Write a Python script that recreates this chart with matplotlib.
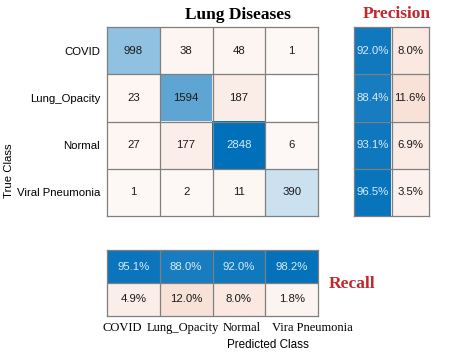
import matplotlib
matplotlib.use('Agg')
import matplotlib.pyplot as plt
import numpy as np

# dados da matriz de confusao
classes = ['COVID', 'Lung_Opacity', 'Normal', 'Viral Pneumonia']
pred_labels = ['COVID', 'Lung_Opacity', 'Normal', 'Vira Pneumonia']
counts = np.array([
    [998, 38, 48, 1],
    [23, 1594, 187, 0],
    [27, 177, 2848, 6],
    [1, 2, 11, 390],
])
precision_ok = [92.0, 88.4, 93.1, 96.5]
precision_err = [8.0, 11.6, 6.9, 3.5]
recall_ok = [95.1, 88.0, 92.0, 98.2]
recall_err = [4.9, 12.0, 8.0, 1.8]

BLUE = np.array([0, 112, 186]) / 255
ORANGE = np.array([217, 83, 25]) / 255
WHITE = np.ones(3)
RED = '#c1272d'


def mix(c, a):
    return WHITE * (1 - a) + c * a


def cor_diag(a):
    return mix(BLUE, a ** 0.8)


def cor_off(a):
    if a <= 0:
        return WHITE
    return mix(ORANGE, 0.04 + a)


def desenha(ax, rgb, textos, claros):
    ax.imshow(rgb, aspect='auto', interpolation='nearest')
    nl, nc = rgb.shape[:2]
    for i in range(nl):
        for j in range(nc):
            if textos[i][j] == '':
                continue
            ax.text(j, i, textos[i][j], ha='center', va='center', fontsize=8.2,
                    family='Liberation Sans',
                    color='#d6ebf8' if claros[i][j] else '#1a1a1a')
    for k in range(1, nc):
        ax.axvline(k - 0.5, color='#7f7f7f', lw=0.9)
    for k in range(1, nl):
        ax.axhline(k - 0.5, color='#7f7f7f', lw=0.9)
    for s in ax.spines.values():
        s.set_color('#7f7f7f')
        s.set_linewidth(0.9)
    ax.set_xticks([])
    ax.set_yticks([])


fig = plt.figure(figsize=(4.74, 3.55), dpi=100)

# matriz principal
vmax = counts.max()
rgb = np.zeros((4, 4, 3))
txt = [['' for _ in range(4)] for _ in range(4)]
claro = [[False] * 4 for _ in range(4)]
for i in range(4):
    for j in range(4):
        v = counts[i, j]
        if i == j:
            rgb[i, j] = cor_diag(v / vmax)
            claro[i][j] = v / vmax > 0.7
        else:
            rgb[i, j] = cor_off(1.0 * v / vmax)
        txt[i][j] = '' if v == 0 else str(v)

ax = fig.add_axes([107 / 474, 1 - 216 / 355, 211 / 474, 189 / 355])
desenha(ax, rgb, txt, claro)
ax.set_yticks(range(4))
ax.set_yticklabels(classes, fontsize=8.2, family='Liberation Sans')
ax.tick_params(axis='y', length=0, pad=5)
fig.text(238 / 474, 1 - 15 / 355, 'Lung Diseases', ha='center', va='center',
         fontsize=12.5, family='Liberation Serif', fontweight='bold')
fig.text(9 / 474, 1 - 171 / 355, 'True Class', rotation=90, ha='center',
         va='center', fontsize=8.2, family='Liberation Sans')

# precisao
rgb_p = np.zeros((4, 2, 3))
txt_p, claro_p = [], []
for i in range(4):
    rgb_p[i, 0] = cor_diag(precision_ok[i] / 100)
    rgb_p[i, 1] = cor_off(1.1 * precision_err[i] / 100)
    txt_p.append([f'{precision_ok[i]:.1f}%', f'{precision_err[i]:.1f}%'])
    claro_p.append([True, False])
axp = fig.add_axes([354 / 474, 1 - 216 / 355, 75 / 474, 189 / 355])
desenha(axp, rgb_p, txt_p, claro_p)
fig.text(397 / 474, 1 - 14 / 355, 'Precision', ha='center', va='center',
         fontsize=12.5, family='Liberation Serif', fontweight='bold', color=RED)

# recall
rgb_r = np.zeros((2, 4, 3))
for j in range(4):
    rgb_r[0, j] = cor_diag(recall_ok[j] / 100)
    rgb_r[1, j] = cor_off(1.1 * recall_err[j] / 100)
txt_r = [[f'{v:.1f}%' for v in recall_ok], [f'{v:.1f}%' for v in recall_err]]
claro_r = [[True] * 4, [False] * 4]
axr = fig.add_axes([107 / 474, 1 - 316 / 355, 211 / 474, 66 / 355])
desenha(axr, rgb_r, txt_r, claro_r)

# rotulos de baixo (posicoes como na figura original)
for x, lab in zip([-0.22, 0.94, 2.06, 3.39], pred_labels):
    axr.text(x, 1.85, lab, ha='center', va='center', fontsize=9,
             family='Liberation Serif')
fig.text(268 / 474, 1 - 345 / 355, 'Predicted Class', ha='center', va='center',
         fontsize=8.4, family='Liberation Sans')
fig.text(352 / 474, 1 - 284 / 355, 'Recall', ha='center', va='center',
         fontsize=12.5, family='Liberation Serif', fontweight='bold', color=RED)

fig.savefig('out.png', dpi=100)
plt.close(fig)
